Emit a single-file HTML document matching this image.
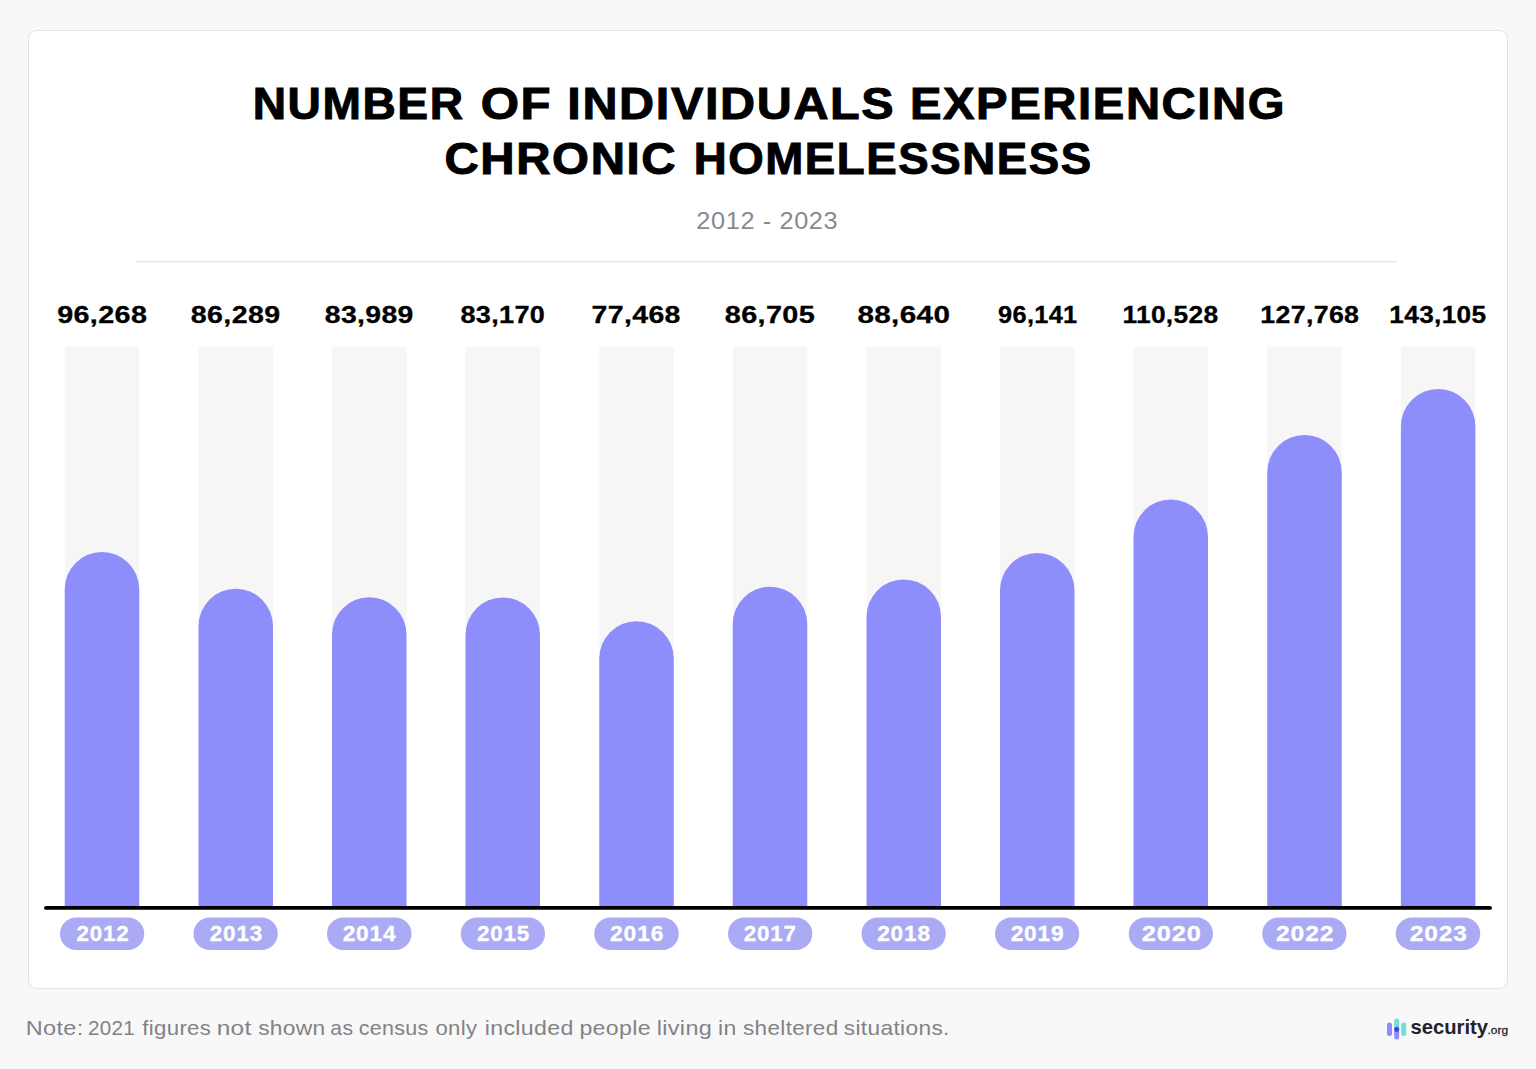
<!DOCTYPE html>
<html lang="en">
<head>
<meta charset="utf-8">
<title>Number of Individuals Experiencing Chronic Homelessness</title>
<style>
html,body{margin:0;padding:0;}
body{width:1536px;height:1069px;background:#f8f8f9;position:relative;overflow:hidden;font-family:"Liberation Sans",sans-serif;}
.card{position:absolute;left:28px;top:30px;width:1478px;height:957px;background:#fff;border:1px solid #e2e2ec;border-radius:9px;}
h1,p{margin:0;padding:0;font-size:inherit;font-weight:inherit;}
.tx{display:block;position:absolute;width:600px;text-align:center;white-space:nowrap;}
.tx span{display:inline-block;}
.title{font-weight:bold;color:#000;font-size:44.6px;line-height:55px;-webkit-text-stroke:1px #000;}
.title span{letter-spacing:1.5px;margin-right:-1.5px;}
.t1{top:76.05px;}
.t2{top:131.05px;}
.sub{top:206px;font-size:24px;line-height:30px;color:#8a8a8a;}
.sub span{letter-spacing:0.6px;margin-right:-0.6px;}
.val{top:299.1px;font-weight:bold;font-size:24px;line-height:30px;color:#000;-webkit-text-stroke:0.3px #000;}
.val span{letter-spacing:0.3px;margin-right:-0.3px;}
.yr{top:918px;height:32.5px;color:#fff;font-weight:bold;font-size:22.2px;line-height:32.5px;-webkit-text-stroke:0.3px #fff;}
.yr span{letter-spacing:0.8px;margin-right:-0.8px;}
.note{top:1016.5px;font-size:20.6px;line-height:24px;color:#828286;}
.note span{letter-spacing:0.3px;margin-right:-0.3px;}
.chart{position:absolute;left:0;top:0;}
.logo{position:absolute;left:1385px;top:1012px;width:130px;height:34px;}
</style>
</head>
<body>
<div class="card"></div>
<h1>
<span class="tx title t1" style="left:58px"><span style="transform:translate(0.27px,-0.2px) scaleX(1.0353)">NUMBER</span></span>
<span class="tx title t1" style="left:216px"><span style="transform:translate(0.04px,-0.2px) scaleX(1.1036)">OF</span></span>
<span class="tx title t1" style="left:431px"><span style="transform:translate(-0.37px,-0.2px) scaleX(1.0883)">INDIVIDUALS</span></span>
<span class="tx title t1" style="left:797px"><span style="transform:translate(0.49px,-0.2px) scaleX(1.0598)">EXPERIENCING</span></span>
<span class="tx title t2" style="left:261px"><span style="transform:translate(-0.46px,-0.2px) scaleX(1.0648)">CHRONIC</span></span>
<span class="tx title t2" style="left:592px"><span style="transform:translate(0.36px,-0.2px) scaleX(1.0235)">HOMELESSNESS</span></span>
</h1>
<p><span class="tx sub" style="left:467px"><span style="transform:translate(-0.05px,0.1px) scaleX(1.0535)">2012 - 2023</span></span></p>
<svg class="chart" width="1536" height="1069" viewBox="0 0 1536 1069">
<rect x="64.75" y="347" width="74.5" height="561" fill="#f6f6f6"/>
<rect x="198.5" y="347" width="74.5" height="561" fill="#f6f6f6"/>
<rect x="332" y="347" width="74.5" height="561" fill="#f6f6f6"/>
<rect x="465.5" y="347" width="74.5" height="561" fill="#f6f6f6"/>
<rect x="599.25" y="347" width="74.5" height="561" fill="#f6f6f6"/>
<rect x="732.75" y="347" width="74.5" height="561" fill="#f6f6f6"/>
<rect x="866.5" y="347" width="74.5" height="561" fill="#f6f6f6"/>
<rect x="1000" y="347" width="74.5" height="561" fill="#f6f6f6"/>
<rect x="1133.5" y="347" width="74.5" height="561" fill="#f6f6f6"/>
<rect x="1267.25" y="347" width="74.5" height="561" fill="#f6f6f6"/>
<rect x="1400.9" y="347" width="74.5" height="561" fill="#f6f6f6"/>
<path d="M64.75 908V589.25A37.25 37.25 0 0 1 139.25 589.25V908Z" fill="#8d8dfc"/>
<path d="M198.5 908V626.0A37.25 37.25 0 0 1 273.0 626.0V908Z" fill="#8d8dfc"/>
<path d="M332 908V634.5A37.25 37.25 0 0 1 406.5 634.5V908Z" fill="#8d8dfc"/>
<path d="M465.5 908V634.75A37.25 37.25 0 0 1 540.0 634.75V908Z" fill="#8d8dfc"/>
<path d="M599.25 908V658.5A37.25 37.25 0 0 1 673.75 658.5V908Z" fill="#8d8dfc"/>
<path d="M732.75 908V624.0A37.25 37.25 0 0 1 807.25 624.0V908Z" fill="#8d8dfc"/>
<path d="M866.5 908V616.75A37.25 37.25 0 0 1 941.0 616.75V908Z" fill="#8d8dfc"/>
<path d="M1000 908V590.25A37.25 37.25 0 0 1 1074.5 590.25V908Z" fill="#8d8dfc"/>
<path d="M1133.5 908V536.75A37.25 37.25 0 0 1 1208.0 536.75V908Z" fill="#8d8dfc"/>
<path d="M1267.25 908V472.25A37.25 37.25 0 0 1 1341.75 472.25V908Z" fill="#8d8dfc"/>
<path d="M1400.9 908V426.25A37.25 37.25 0 0 1 1475.4 426.25V908Z" fill="#8d8dfc"/>
<line x1="135.6" y1="261.6" x2="1397" y2="261.6" stroke="#e3e3ec" stroke-width="1.3"/>
<line x1="45.9" y1="907.9" x2="1490.1" y2="907.9" stroke="#000" stroke-width="3.75" stroke-linecap="round"/>
<rect x="60" y="917.5" width="84.25" height="32.5" rx="16.25" fill="#ababf5"/>
<rect x="193.5" y="917.5" width="84.25" height="32.5" rx="16.25" fill="#ababf5"/>
<rect x="327" y="917.5" width="84.5" height="32.5" rx="16.25" fill="#ababf5"/>
<rect x="460.75" y="917.5" width="84.25" height="32.5" rx="16.25" fill="#ababf5"/>
<rect x="594.25" y="917.5" width="84.5" height="32.5" rx="16.25" fill="#ababf5"/>
<rect x="728" y="917.5" width="84.25" height="32.5" rx="16.25" fill="#ababf5"/>
<rect x="861.5" y="917.5" width="84.25" height="32.5" rx="16.25" fill="#ababf5"/>
<rect x="995" y="917.5" width="84.25" height="32.5" rx="16.25" fill="#ababf5"/>
<rect x="1128.75" y="917.5" width="84.25" height="32.5" rx="16.25" fill="#ababf5"/>
<rect x="1262.25" y="917.5" width="84.25" height="32.5" rx="16.25" fill="#ababf5"/>
<rect x="1395.75" y="917.5" width="84.5" height="32.5" rx="16.25" fill="#ababf5"/>
</svg>
<div>
<span class="tx val" style="left:-198px"><span style="transform:translate(-0.41px,1.0px) scaleX(1.1984)">96,268</span></span>
<span class="tx val" style="left:-65px"><span style="transform:translate(0.01px,1.0px) scaleX(1.1911)">86,289</span></span>
<span class="tx val" style="left:69px"><span style="transform:translate(-0.38px,1.0px) scaleX(1.1818)">83,989</span></span>
<span class="tx val" style="left:202px"><span style="transform:translate(0.20px,1.0px) scaleX(1.1260)">83,170</span></span>
<span class="tx val" style="left:336px"><span style="transform:translate(-0.41px,1.0px) scaleX(1.1869)">77,468</span></span>
<span class="tx val" style="left:469px"><span style="transform:translate(0.35px,1.0px) scaleX(1.2009)">86,705</span></span>
<span class="tx val" style="left:603px"><span style="transform:translate(0.24px,1.0px) scaleX(1.2349)">88,640</span></span>
<span class="tx val" style="left:737px"><span style="transform:translate(0.20px,1.0px) scaleX(1.0567)">96,141</span></span>
<span class="tx val" style="left:871px"><span style="transform:translate(-0.36px,1.0px) scaleX(1.0974)">110,528</span></span>
<span class="tx val" style="left:1009px"><span style="transform:translate(0.38px,1.0px) scaleX(1.1132)">127,768</span></span>
<span class="tx val" style="left:1137px"><span style="transform:translate(0.43px,1.0px) scaleX(1.0925)">143,105</span></span>
</div>
<div>
<span class="tx yr" style="left:-197px"><span style="transform:translate(-0.24px,0px) scaleX(1.0071)">2012</span></span>
<span class="tx yr" style="left:-64px"><span style="transform:translate(0.16px,0px) scaleX(1.0137)">2013</span></span>
<span class="tx yr" style="left:69px"><span style="transform:translate(0.23px,0px) scaleX(1.0227)">2014</span></span>
<span class="tx yr" style="left:203px"><span style="transform:translate(0.25px,0px) scaleX(1.0113)">2015</span></span>
<span class="tx yr" style="left:337px"><span style="transform:translate(-0.15px,0px) scaleX(1.0288)">2016</span></span>
<span class="tx yr" style="left:470px"><span style="transform:translate(0.02px,0px) scaleX(1.0080)">2017</span></span>
<span class="tx yr" style="left:604px"><span style="transform:translate(-0.24px,0px) scaleX(1.0227)">2018</span></span>
<span class="tx yr" style="left:737px"><span style="transform:translate(0.32px,0px) scaleX(1.0264)">2019</span></span>
<span class="tx yr" style="left:872px"><span style="transform:translate(-0.49px,0px) scaleX(1.1427)">2020</span></span>
<span class="tx yr" style="left:1005px"><span style="transform:translate(-0.09px,0px) scaleX(1.1087)">2022</span></span>
<span class="tx yr" style="left:1138px"><span style="transform:translate(0.49px,0px) scaleX(1.1049)">2023</span></span>
</div>
<p>
<span class="tx note" style="left:-246px"><span style="transform:translate(0.26px,-1.4px) scaleX(1.1400)">Note:</span></span>
<span class="tx note" style="left:-189px"><span style="transform:translate(-0.09px,-1.4px) scaleX(0.9996)">2021</span></span>
<span class="tx note" style="left:-123px"><span style="transform:translate(-0.21px,-1.4px) scaleX(1.0782)">figures</span></span>
<span class="tx note" style="left:-66px"><span style="transform:translate(0.42px,-1.4px) scaleX(1.1858)">not</span></span>
<span class="tx note" style="left:-9px"><span style="transform:translate(0.36px,-1.4px) scaleX(1.1046)">shown</span></span>
<span class="tx note" style="left:42px"><span style="transform:translate(-0.37px,-1.4px) scaleX(1.0240)">as</span></span>
<span class="tx note" style="left:93px"><span style="transform:translate(0.08px,-1.4px) scaleX(1.0432)">census</span></span>
<span class="tx note" style="left:156px"><span style="transform:translate(-0.11px,-1.4px) scaleX(1.0761)">only</span></span>
<span class="tx note" style="left:229px"><span style="transform:translate(-0.37px,-1.4px) scaleX(1.1238)">included</span></span>
<span class="tx note" style="left:315px"><span style="transform:translate(0.30px,-1.4px) scaleX(1.1228)">people</span></span>
<span class="tx note" style="left:384px"><span style="transform:translate(0.07px,-1.4px) scaleX(1.1401)">living</span></span>
<span class="tx note" style="left:427px"><span style="transform:translate(0.03px,-1.4px) scaleX(1.1170)">in</span></span>
<span class="tx note" style="left:491px"><span style="transform:translate(0.09px,-1.4px) scaleX(1.0926)">sheltered</span></span>
<span class="tx note" style="left:597px"><span style="transform:translate(-0.26px,-1.4px) scaleX(1.1035)">situations.</span></span>
</p>
<svg class="logo" viewBox="0 -0.5 130 34">
<rect x="2" y="10" width="5" height="13.5" rx="2.5" fill="#8c8cfb"/>
<rect x="9.2" y="6" width="5" height="12" rx="2.5" fill="#6fe0cf"/>
<rect x="9.2" y="14" width="5" height="13" rx="2.5" fill="#8c8cfb"/>
<circle cx="11.7" cy="17" r="2.4" fill="#3c3cf0"/>
<rect x="16.2" y="10" width="5" height="13.5" rx="2.5" fill="#6fe0cf"/>
<text x="25.5" y="21.8" font-family="Liberation Sans, sans-serif" font-weight="bold" font-size="21" fill="#22222c" textLength="77.5" lengthAdjust="spacingAndGlyphs">security</text>
<text x="102.5" y="21.8" font-family="Liberation Sans, sans-serif" font-size="11.3" fill="#22222c" stroke="#22222c" stroke-width="0.3" textLength="20.5" lengthAdjust="spacingAndGlyphs">.org</text>
</svg>
</body>
</html>
